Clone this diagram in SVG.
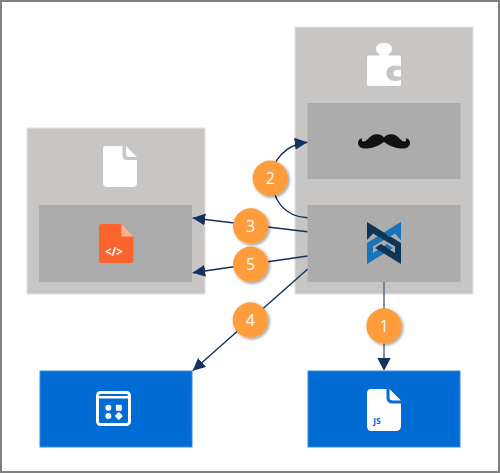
<svg xmlns="http://www.w3.org/2000/svg" width="500" height="473" viewBox="0 0 500 473">
<defs>
<marker id="arrow" markerWidth="14" markerHeight="12" refX="12.500" refY="6" orient="auto" markerUnits="userSpaceOnUse"><path d="M0 0L12.500 6L0 12Z" fill="#14305f"/></marker>
<filter id="sh" x="-20%" y="-20%" width="150%" height="150%"><feDropShadow dx="1.500" dy="1.500" stdDeviation="1.500" flood-color="#000" flood-opacity="0.4"/></filter>
</defs>
<style>
.outer{fill:#c8c6c4;stroke:#e2e1df;stroke-width:1}.inner{fill:#acacac}.blue{fill:#006bd3;stroke:#3d87dd;stroke-width:1}
.c{fill:none;stroke:#14305f;stroke-width:1.400;marker-end:url(#arrow)}
.b{fill:#ff9c3a;filter:url(#sh)}
.t{font-family:"Open Sans","Liberation Sans",sans-serif;font-size:16px;fill:#fff;text-anchor:middle}
.w{fill:#fff}
</style>
<rect x="0" y="0" width="500" height="473" fill="#fff"/>
<rect x="1" y="1" width="498" height="471" fill="#fff" stroke="#808080" stroke-width="2"/>
<g id="plugin-container"><rect class="outer" x="295" y="27" width="178" height="267"/>
<path class="w" d="M369 55.500H379.500V54C377 53 376 51 376 48.500C376 45 379.500 43 384 43C388.500 43 392 45 392 48.500C392 51 391 53 388.500 54V55.500H399C400.500 55.500 401 56.500 401 58V83.500C401 85.500 400 86 398.500 86H369.500C368 86 367 85.500 367 83.500V58C367 56.500 367.500 55.500 369 55.500Z"/>
<path d="M401 66.500C397 65 393 65 390.500 66.500C385 69.500 385 77 390.500 80C393 81.500 397 81.500 401 80Z" fill="#c8c6c4"/>
<path d="M401 70H396.500C392.500 70 392.500 76.500 396.500 76.500H401Z" fill="#fff"/></g>
<g id="mustache-node"><rect class="inner" x="307.500" y="103" width="153" height="76"/>
<path d="M384 137.500C381 134 376 133.500 372 135.500C369 137 367 141 364 141.500C362 142 361 140 362.500 138.500C360 138 358 140 358 143C358 147 362 149 367 148.500C374 148 380 145 384 142C388 145 394 148 401 148.500C406 149 410 147 410 143C410 140 408 138 405.500 138.500C407 140 406 142 404 141.500C401 141 399 137 396 135.500C392 133.500 387 134 384 137.500Z" fill="#111"/></g>
<g id="backbone-node"><rect class="inner" x="307.500" y="205" width="153" height="77"/>
<path d="M401 222L367 243V264L393 248L387 244L373 253V246.500L395 233.500L401 240Z" fill="#1a74bb"/>
<path d="M367 222L401 243V264L375 248L381 244L395 253V246.500L373 233.500L367 240Z" fill="#0f3556"/>
<path d="M401 222L384 232.500L389 237L395 233.500L401 240Z" fill="#1a74bb"/></g>
<g id="doc-container"><rect class="outer" x="27" y="128" width="178" height="166"/>
<path class="w" d="M106 146H122.500V155C122.500 158 124 160 127 160H137V183C137 185.500 135.500 187 133 187H107C104.500 187 103 185.500 103 183V149C103 147 104 146 106 146ZM126 146L137 157H129C127 157 126 156 126 154Z"/></g>
<g id="html-node"><rect class="inner" x="39" y="205" width="153" height="77"/>
<path d="M101.500 224H121.500L133.500 236.500V260.500C133.500 262 132.500 263 131 263H101.500C100 263 99 262 99 260.500V226.500C99 225 100 224 101.500 224Z" fill="#fb642d"/>
<path d="M121.500 224L133.500 236.500H121.500Z" fill="#fdb195"/>
<text x="114" y="256" font-family="'Open Sans','Liberation Sans',sans-serif" font-size="11.500" font-weight="700" fill="#fff" text-anchor="middle">&lt;/&gt;</text></g>
<g id="app-node"><rect class="blue" x="40" y="371" width="152" height="76"/>
<rect x="97.500" y="392.500" width="32" height="32" rx="3" fill="none" stroke="#fff" stroke-width="3"/>
<rect class="w" x="98" y="396" width="31" height="2.500"/>
<circle class="w" cx="108.300" cy="407.700" r="3"/><rect class="w" x="115.800" y="404.700" width="6" height="6" rx="1"/><circle class="w" cx="108.300" cy="416" r="3"/><rect class="w" x="115.800" y="413" width="6" height="6" rx="1" transform="rotate(45 118.800 416)"/></g>
<g id="js-node"><rect class="blue" x="308" y="371" width="152" height="76"/>
<path class="w" d="M371 389H386.500V398C386.500 401 389 403.500 392 403.500H401V426C401 429 399 431 396 431H371C368.500 431 367 429 367 426V393C367 390.500 368.500 389 371 389ZM389.500 389L401 400.500H392.500C390.500 400.500 389.500 399.500 389.500 398Z"/>
<text x="377" y="423.500" font-family="'Open Sans','Liberation Sans',sans-serif" font-size="8.500" font-weight="700" fill="#006bd3" text-anchor="middle">JS</text></g>
<g id="connectors">
<path class="c" d="M307.500 217.700C285 217 272 200 272 178C272 160 285 145 307.300 142.300"/>
<path class="c" d="M307.500 231.700L192.700 218"/>
<path class="c" d="M307.500 256L192.700 272.700"/>
<path class="c" d="M307.500 269.300L192.700 370.700"/>
<path d="M384 282V360" fill="none" stroke="#5d6b85" stroke-width="1.500"/>
<path d="M377.300 358H390.700L384 370.700Z" fill="#14305f"/>
</g>
<g id="badges">
<g id="badge-2"><circle class="b" cx="270.300" cy="178.300" r="17.700"/><text class="t" x="270.300" y="184">2</text></g>
<g id="badge-3"><circle class="b" cx="250.700" cy="226" r="17.700"/><text class="t" x="250.700" y="231.700">3</text></g>
<g id="badge-5"><circle class="b" cx="250.700" cy="264.300" r="17.700"/><text class="t" x="250.700" y="270">5</text></g>
<g id="badge-4"><circle class="b" cx="250.300" cy="320" r="17.700"/><text class="t" x="250.300" y="325.700">4</text></g>
<g id="badge-1"><circle class="b" cx="384" cy="326" r="17.700"/><text class="t" x="384" y="331.700">1</text></g>
</g>
</svg>
